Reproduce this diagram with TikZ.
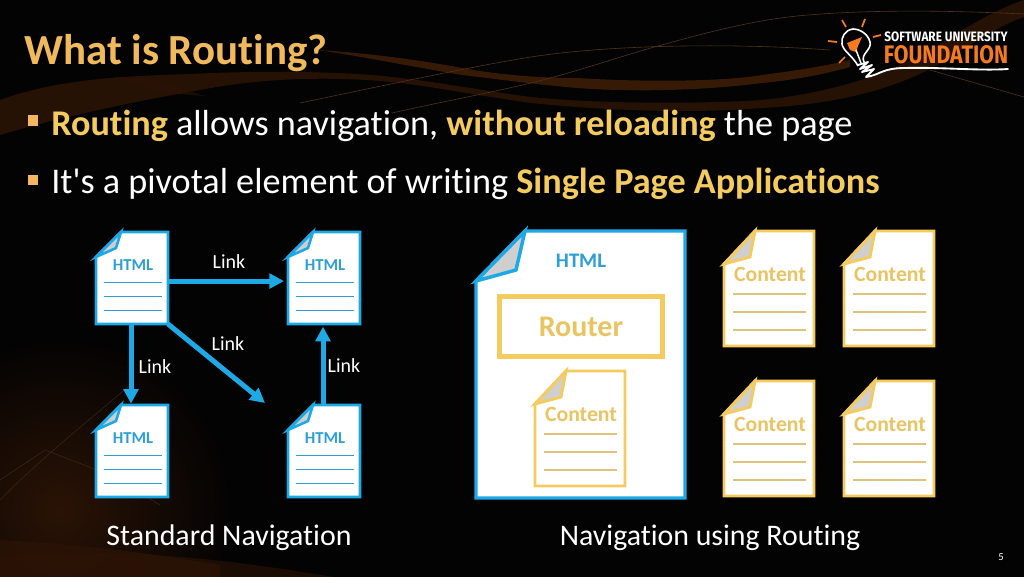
\documentclass[tikz,border=0pt]{standalone}
\usepackage{fontspec}
\usepackage{graphicx}
\setmainfont[Ligatures={NoCommon,TeXOff}]{Carlito}
\newfontfamily\logofont{Fira Sans}
\usetikzlibrary{arrows.meta}
\definecolor{bgcol}{HTML}{040303}
\definecolor{bandcol}{HTML}{2C1406}
\definecolor{banddeep}{HTML}{3C1D07}
\definecolor{thincol}{HTML}{4E331A}
\definecolor{titlecol}{HTML}{F0B95B}
\definecolor{goldcol}{HTML}{F3CB5F}
\definecolor{contentcol}{HTML}{E9C463}
\definecolor{bulletcol}{HTML}{F4B661}
\definecolor{bluecol}{HTML}{1CA9E6}
\definecolor{bluetext}{HTML}{2E9FD6}
\definecolor{foldcol}{HTML}{CFCFCF}
\definecolor{goldline}{HTML}{E0C37A}
\definecolor{logoor}{HTML}{F47B20}
\definecolor{glowcol}{HTML}{2A1305}
\tikzset{
  txt/.style={inner sep=0pt,anchor=base west,text=white},
  center txt/.style={inner sep=0pt,anchor=center},
  arrowline/.style={draw=bluecol,line width=3.75pt,-{Triangle[length=11pt,width=11pt]}},
  doc frame/.style={inner sep=0pt,outer sep=0pt},
  band/.style={fill=bandcol,draw=none},
  thin band/.style={draw=thincol,line width=0.45pt},
  ray/.style={draw=logoor,line width=1.3pt},
  htmllabel/.style={center txt,text=bluetext,font=\fontsize{12.5}{14}\selectfont\bfseries},
  contentlabel/.style={center txt,text=contentcol,font=\fontsize{16.3}{18}\selectfont\bfseries},
  linklabel/.style={center txt,text=white,font=\fontsize{15}{18}\selectfont},
}
\newcommand{\doccol}{bluecol}
\newcommand{\docbw}{1.9pt}
\newcommand{\docbase}[9]{%
  \path[fill=white,draw=\doccol,line width=\docbw,line join=miter]
    (#2+#6,#3) -- (#2+#4,#3) -- (#2+#4,#3+#5) -- (#2,#3+#5) -- (#2,#3+#7) -- cycle;
  \path[fill=foldcol,draw=\doccol,line width=\docbw,line join=miter]
    (#2,#3+#7) -- (#2+#6,#3) -- (#2+#8,#3+#9) -- cycle;
  \node[doc frame,minimum width=#4*0.75pt,minimum height=#5*0.75pt] (#1) at (#2+#4/2,#3+#5/2) {};
}
\newcommand{\htmldoc}[3]{%
  \docbase{#1}{#2}{#3}{72}{92}{25}{25}{20}{16}
  \foreach \dy in {50,64,78}{\draw[draw=bluetext,line width=0.75pt] (#2+8,#3+\dy) -- (#2+66,#3+\dy);}
  \node[htmllabel] (#1t) at (#2+37,#3+33) {HTML};
}
\newcommand{\contentdoc}[3]{%
  \renewcommand{\doccol}{goldcol}%
  \docbase{#1}{#2}{#3}{90}{115}{31}{33}{26}{26}
  \foreach \dy in {63,81,99}{\draw[draw=goldline,line width=0.85pt] (#2+9,#3+\dy) -- (#2+82,#3+\dy);}
  \node[contentlabel] (#1t) at (#2+46,#3+43) {Content};
  \renewcommand{\doccol}{bluecol}%
}
\begin{document}
\begin{tikzpicture}[x=0.75pt,y=-0.75pt]
\useasboundingbox (0,0) rectangle (1024,576);
\fill[bgcol] (-4,-4) rectangle (1028,580);
\begin{scope}
\clip (-2,-2) rectangle (1026,578);
% background glow and swooshes
\shade[inner color=glowcol,outer color=bgcol] (60,510) circle (170);
\fill[band,opacity=.85] (0,100) .. controls (60,78) and (130,76) .. (190,74) .. controls (270,70) and (350,72) .. (392,77)
  .. controls (440,82) and (490,92) .. (531,97) .. controls (600,104) and (700,104) .. (762,100)
  .. controls (840,92) and (900,70) .. (946,40) .. controls (975,22) and (1000,8) .. (1024,0)
  -- (1024,17) .. controls (1000,25) and (975,42) .. (946,60) .. controls (900,88) and (840,104) .. (762,108)
  .. controls (700,113) and (620,112) .. (531,103) .. controls (480,96) and (430,86) .. (392,82)
  .. controls (330,76) and (260,78) .. (200,90) .. controls (120,104) and (50,120) .. (0,135) -- cycle;
\fill[band,fill=banddeep,opacity=.9] (318,50) .. controls (380,54) and (430,62) .. (462,68)
  .. controls (500,75) and (540,78) .. (577,78) .. controls (640,82) and (720,82) .. (762,75)
  .. controls (800,70) and (825,66) .. (850,60)
  -- (850,67) .. controls (825,74) and (795,80) .. (762,83) .. controls (700,91) and (630,92) .. (577,88)
  .. controls (530,84) and (490,78) .. (462,75) .. controls (420,68) and (370,58) .. (318,50) -- cycle;
\fill[band,opacity=.6] (113,77) -- (145,78) -- (205,96) -- (165,93) -- cycle;
\draw[thin band] (300,103) .. controls (400,82) and (480,65) .. (531,57) .. controls (600,46) and (720,42) .. (830,50);
\draw[thin band] (392,113) .. controls (450,100) and (480,95) .. (531,83) .. controls (590,68) and (620,56) .. (669,43)
  .. controls (730,26) and (770,18) .. (808,15) .. controls (880,9) and (960,11) .. (1024,14);
\draw[thin band] (930,70) -- (1024,97);
\draw[thin band,opacity=.6] (0,500) .. controls (50,450) and (90,420) .. (130,385);
\draw[thin band,opacity=.6] (0,480) -- (45,450) -- (110,475) -- (160,505);
\fill[band,opacity=.7] (0,540) .. controls (80,545) and (130,550) .. (220,565) -- (220,578) -- (0,578) -- cycle;
\fill[band,opacity=.6] (0,558) .. controls (120,548) and (200,555) .. (340,578) -- (0,578) -- cycle;
\end{scope}
% logo
\draw[ray] (842,20) -- (846,27);
\draw[ray] (865,19) -- (862,27);
\draw[ray] (828,41) -- (837,42);
\draw[ray] (839,63) -- (845,57);
\draw[ray] (873,37) -- (881,35);
\fill[logoor] (847,43) -- (862,37) -- (858,46) -- (856,52) -- (850,50) -- cycle;
\draw[white,line width=1.2pt,line join=round] (864,62) .. controls (860,54) and (872,50) .. (870,42)
  .. controls (868,34) and (860,29) .. (853,29) .. controls (845,30) and (841,37) .. (842,44)
  .. controls (843,51) and (853,56) .. (858,66);
\draw[white,line width=1.1pt] (856,50) -- (861,63);
\draw[white,line width=1.4pt,line join=round,line cap=round] (858,65) -- (868,62) -- (860,69) -- (872,65) -- (862,72) -- (874,69) -- (866,77)
  .. controls (880,75) and (882,68) .. (905,68) .. controls (940,67) and (980,71) .. (1008,69);
\node[center txt,text=white,font=\logofont\bfseries\fontsize{10.2}{12}\selectfont] (logotop) at (946,37) {\scalebox{.87}[1]{SOFTWARE UNIVERSITY}};
\node[center txt,text=logoor,font=\logofont\bfseries\fontsize{19}{22}\selectfont] (logobot) at (946,55) {\scalebox{.84}[1]{FOUNDATION}};
% headings
\node[txt,text=titlecol,font=\fontsize{32.2}{38}\selectfont\bfseries] (title) at (24,64) {What is Routing?};
\fill[bulletcol] (28,115) rectangle (38,126);
\fill[bulletcol] (28,175) rectangle (38,185);
\node[txt,font=\fontsize{27.15}{32}\selectfont] (b1) at (51,135.5) {{\bfseries\color{goldcol}Routing} allows navigation, {\bfseries\color{goldcol}without reloading} the page};
\node[txt,font=\fontsize{27.15}{32}\selectfont] (b2) at (51,193.5) {It's a pivotal element of writing {\bfseries\color{goldcol}Single Page Applications}};
% left diagram
\htmldoc{d1}{96}{232}
\htmldoc{d2}{288}{232}
\htmldoc{d3}{96}{405}
\htmldoc{d4}{288}{405}
\coordinate (diagend) at (265,403);
\draw[arrowline] ([yshift=-2.3pt]d1.east) -- ([yshift=-2.3pt,xshift=-3pt]d2.west);
\draw[arrowline] ([xshift=-0.75pt]d1.south) -- ([xshift=-0.75pt,yshift=1pt]d3.north);
\draw[arrowline] (d1.south east) -- (diagend);
\draw[arrowline] ([xshift=-0.75pt]d4.north) -- ([xshift=-0.75pt,yshift=-2pt]d2.south);
\node[linklabel] (l1) at (229,262) {Link};
\node[linklabel] (l2) at (228,344) {Link};
\node[linklabel] (l3) at (155,367) {Link};
\node[linklabel] (l4) at (344,366) {Link};
% right diagram
\renewcommand{\docbw}{2.6pt}
\docbase{big}{476}{231}{209}{267}{49}{50}{40}{39}
\node[center txt,text=bluetext,font=\fontsize{15.5}{18}\selectfont\bfseries] (bigt) at (581,261) {HTML};
\node[draw=goldcol,line width=3.75pt,minimum width=163*0.75pt,minimum height=60*0.75pt,inner sep=0pt,text=contentcol,font=\fontsize{22.5}{25}\selectfont\bfseries] (router) at (581,326.5) {\raisebox{-1.5pt}{Router}};
\renewcommand{\docbw}{2.2pt}
\contentdoc{c0}{535}{371}
\contentdoc{c1}{724}{231}
\contentdoc{c2}{844}{231}
\contentdoc{c3}{724}{381}
\contentdoc{c4}{844}{381}
% captions
\node[center txt,text=white,font=\fontsize{22.4}{26}\selectfont] (cap1) at (229,538) {Standard Navigation};
\node[center txt,text=white,font=\fontsize{22.4}{26}\selectfont] (cap2) at (710,538) {Navigation using Routing};
\node[center txt,text=white,font=\fontsize{8}{10}\selectfont] (pg) at (1001,557) {5};
\end{tikzpicture}
\end{document}
